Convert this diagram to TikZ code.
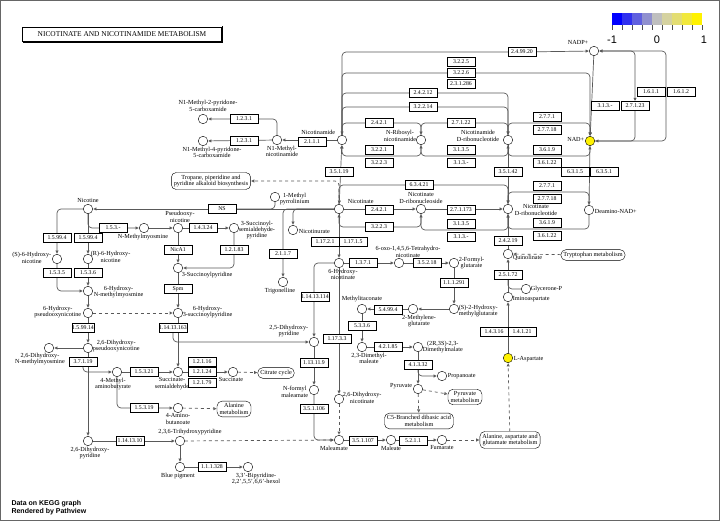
\documentclass[tikz,border=0pt]{standalone}
\usepackage{fontspec}
\setmainfont{Liberation Serif}
\newfontfamily\legendfont{Liberation Sans}
\usetikzlibrary{arrows.meta,backgrounds}
\newcommand\ecfont{\fontsize{5.8}{5.8}\selectfont}
\newcommand\lblfont{\fontsize{6.2}{6.4}\selectfont}
\tikzset{
  cpd/.style={circle,draw,fill=white,minimum size=9.5pt,inner sep=0pt},
  hit/.style={cpd,fill=yellow},
  ec/.style={draw,fill=white,font=\ecfont,inner sep=0.8pt,minimum width=28pt,minimum height=9pt},
  lbl/.style={font=\lblfont,align=center,inner sep=0.6pt},
  mapbox/.style={draw,rounded corners=5pt,fill=white,font=\lblfont,align=center,inner sep=2.5pt},
  ln/.style={draw=black!65,line width=0.7pt,rounded corners=4pt},
  rx/.style={ln,-{Latex[length=3.5pt,width=3.5pt]}},
  rxx/.style={ln,{Latex[length=3.5pt,width=3.5pt]}-{Latex[length=3.5pt,width=3.5pt]}},
  lnk/.style={ln,dashed,-{Latex[open,length=3.5pt,width=3.5pt]}}
}
\begin{document}
\begin{tikzpicture}[x=1pt,y=-1pt]
\useasboundingbox (0,0) rectangle (720,521);
\draw[black!60] (0.5,0.5) rectangle (719.5,520.5);

% title and legend
\node[draw,fill=white,font=\fontsize{7.4}{8}\selectfont,minimum width=199pt,minimum height=14pt,inner sep=1pt] (title) at (122,34) {NICOTINATE AND NICOTINAMIDE METABOLISM};
\draw[line width=1pt] (title.south west) ++(1,1) -| ([xshift=1pt,yshift=1pt]title.north east);
\foreach \i/\c in {0/blue,1/blue!75!lightgray,2/blue!50!lightgray,3/blue!25!lightgray,4/lightgray,5/yellow!25!lightgray,6/yellow!50!lightgray,7/yellow!75!lightgray,8/yellow}
  \fill[\c] (612+10*\i,13) rectangle (622+10*\i,25);
\foreach \i in {0,...,9}
  \draw[black!70] (612+10*\i,25) -- (612+10*\i,30);
\node[font=\legendfont\fontsize{11}{11}\selectfont] (lgm) at (612,40) {-1};
\node[font=\legendfont\fontsize{11}{11}\selectfont] (lg0) at (657,40) {0};
\node[font=\legendfont\fontsize{11}{11}\selectfont] (lgp) at (704,40) {1};
\node[font=\legendfont\fontsize{7}{8}\selectfont\bfseries,align=left,anchor=south west] (credit) at (8,518) {Data on KEGG graph\\Rendered by Pathview};

% compounds
\node[cpd] (nadp) at (594,51) {};
\node[lbl,anchor=east] (nadpl) at (589,42) {NADP+};
\node[hit] (nad) at (590,141) {};
\node[lbl,anchor=east] (nadl) at (585,139) {NAD+};
\node[cpd] (nam) at (342,140) {};
\node[lbl,anchor=south east] (naml) at (336,135) {Nicotinamide};
\node[cpd] (nrn) at (421,140) {};
\node[lbl,anchor=east] (nrnl) at (417,136) {N-Ribosyl-\\nicotinamide};
\node[cpd] (nmn) at (508,140) {};
\node[lbl,anchor=east] (nmnl) at (500,136) {Nicotinamide\\D-ribonucleotide};
\node[cpd] (na) at (339,209) {};
\node[lbl,anchor=south west] (nal) at (347,204) {Nicotinate};
\node[cpd] (nar) at (421,209) {};
\node[lbl,anchor=south] (narl) at (421,204) {Nicotinate\\D-ribonucleoside};
\node[cpd] (namn) at (508,209) {};
\node[lbl,anchor=west] (namnl) at (514,210) {Nicotinate\\D-ribonucleotide};
\node[cpd] (dnad) at (589,210) {};
\node[lbl,anchor=west] (dnadl) at (594,211) {Deamino-NAD+};
\node[cpd] (mnam) at (277,140) {};
\node[lbl,anchor=north] (mnaml) at (282,145) {N1-Methyl-\\nicotinamide};
\node[cpd] (mtwo) at (203,119) {};
\node[lbl,anchor=south] (mtwol) at (208,112) {N1-Methyl-2-pyridone-\\5-carboxamide};
\node[cpd] (mfour) at (203,141) {};
\node[lbl,anchor=north] (mfourl) at (212,146) {N1-Methyl-4-pyridone-\\5-carboxamide};
\node[cpd] (mpyr) at (275,197) {};
\node[lbl,anchor=west] (mpyrl) at (279,199) {1-Methyl\\pyrrolinium};
\node[cpd] (nic) at (88,209) {};
\node[lbl,anchor=south] (nicl) at (88,203) {Nicotine};
\node[cpd] (pon) at (178,228) {};
\node[lbl,anchor=south] (ponl) at (180,223) {Pseudooxy-\\nicotine};
\node[cpd] (nmm) at (144,228) {};
\node[lbl,anchor=north] (nmml) at (143,233) {N-Methylmyosmine};
\node[cpd] (ssp) at (234,228) {};
\node[lbl,anchor=west] (sspl) at (238,230) {3-Succinoyl-\\semialdehyde-\\pyridine};
\node[cpd] (shn) at (57,259) {};
\node[lbl,anchor=east] (shnl) at (52,258) {(S)-6-Hydroxy-\\nicotine};
\node[cpd] (rhn) at (88,259) {};
\node[lbl,anchor=west] (rhnl) at (90,257) {(R)-6-Hydroxy-\\nicotine};
\node[cpd] (sp) at (178,268) {};
\node[lbl,anchor=west] (spl) at (181,275) {3-Succinoylpyridine};
\node[cpd] (hnmm) at (88,291) {};
\node[lbl,anchor=west] (hnmml) at (93,292) {6-Hydroxy-\\N-methylmyosmine};
\node[cpd] (nur) at (293,230) {};
\node[lbl,anchor=west] (nurl) at (298,231) {Nicotinurate};
\node[cpd] (trig) at (283,282) {};
\node[lbl,anchor=north] (trigl) at (280,287) {Trigonelline};
\node[cpd] (hpon) at (88,313) {};
\node[lbl,anchor=east] (hponl) at (82,312) {6-Hydroxy-\\pseudooxynicotine};
\node[cpd] (hsp) at (178,313) {};
\node[lbl,anchor=west] (hspl) at (182,312) {6-Hydroxy-\\3-succinoylpyridine};
\node[cpd] (dhpon) at (88,348) {};
\node[lbl,anchor=west] (dhponl) at (92,346) {2,6-Dihydroxy-\\pseudooxynicotine};
\node[cpd] (dhnmm) at (49,348) {};
\node[lbl,anchor=north] (dhnmml) at (40,352) {2,6-Dihydroxy-\\N-methylmyosmine};
\node[cpd] (mab) at (117,372) {};
\node[lbl,anchor=north] (mabl) at (113,377) {4-Methyl-\\aminobutyrate};
\node[cpd] (ssa) at (178,372) {};
\node[lbl,anchor=north] (ssal) at (172,377) {Succinate-\\semialdehyde};
\node[cpd] (succ) at (233,372) {};
\node[lbl,anchor=north] (succl) at (231,377) {Succinate};
\node[cpd] (gaba) at (178,408) {};
\node[lbl,anchor=north] (gabal) at (178,413) {4-Amino-\\butanoate};
\node[cpd] (dhp) at (88,441) {};
\node[lbl,anchor=north] (dhpl) at (90,446) {2,6-Dihydroxy-\\pyridine};
\node[cpd] (thp) at (180,441) {};
\node[lbl,anchor=south] (thpl) at (190,436) {2,3,6-Trihydroxypyridine};
\node[cpd] (blue) at (180,467) {};
\node[lbl,anchor=north] (bluel) at (178,472) {Blue pigment};
\node[cpd] (bip) at (248,467) {};
\node[lbl,anchor=north] (bipl) at (256,472) {3,3'-Bipyridine-\\2,2',5,5',6,6'-hexol};
\node[cpd] (dhpf) at (314,342) {};
\node[lbl,anchor=south east] (dhpfl) at (309,338) {2,5-Dihydroxy-\\pyridine};
\node[cpd] (nfm) at (314,390) {};
\node[lbl,anchor=east] (nfml) at (309,392) {N-formyl\\maleamate};
\node[cpd] (hna) at (339,263) {};
\node[lbl,anchor=north] (hnal) at (343,268) {6-Hydroxy-\\nicotinate};
\node[cpd] (oxo) at (399,263) {};
\node[lbl,anchor=south] (oxol) at (408,258) {6-oxo-1,4,5,6-Tetrahydro-\\nicotinate};
\node[cpd] (fgl) at (454,263) {};
\node[lbl,anchor=west] (fgll) at (458,263) {2-Formyl-\\glutarate};
\node[cpd] (shmg) at (454,309) {};
\node[lbl,anchor=west] (shmgl) at (458,311) {(S)-2-Hydroxy-\\methylglutarate};
\node[cpd] (mgl) at (413,309) {};
\node[lbl,anchor=north] (mgll) at (419,314) {2-Methylene-\\glutarate};
\node[cpd] (mit) at (362,309) {};
\node[lbl,anchor=south] (mitl) at (362,303) {Methylitaconate};
\node[cpd] (dmm) at (362,347) {};
\node[lbl,anchor=north] (dmml) at (369,352) {2,3-Dimethyl-\\maleate};
\node[cpd] (dmma) at (418,347) {};
\node[lbl,anchor=west] (dmmal) at (422,347) {(2R,3S)-2,3-\\Dimethylmalate};
\node[cpd] (prop) at (442,376) {};
\node[lbl,anchor=west] (propl) at (447,376) {Propanoate};
\node[cpd] (pyr) at (418,389) {};
\node[lbl,anchor=east] (pyrl) at (413,386) {Pyruvate};
\node[cpd] (dhna) at (339,399) {};
\node[lbl,anchor=west] (dhnal) at (342,398) {2,6-Dihydroxy-\\nicotinate};
\node[cpd] (mam) at (339,440) {};
\node[lbl,anchor=north] (maml) at (334,445) {Maleamate};
\node[cpd] (mal) at (391,440) {};
\node[lbl,anchor=north] (mall) at (391,445) {Maleate};
\node[cpd] (fum) at (442,440) {};
\node[lbl,anchor=north] (fuml) at (442,445) {Fumarate};
\node[cpd] (quin) at (508,254) {};
\node[lbl,anchor=west] (quinl) at (512,258) {Quinolinate};
\node[cpd] (imasp) at (508,297) {};
\node[lbl,anchor=west] (imaspl) at (512,299) {Iminoaspartate};
\node[cpd] (gp) at (526,289) {};
\node[lbl,anchor=west] (gpl) at (530,289) {Glycerone-P};
\node[hit] (asp) at (508,358) {};
\node[lbl,anchor=west] (aspl) at (513,359) {L-Aspartate};

% maps
\node[mapbox] (trop) at (211,181) {Tropane, piperidine and\\pyridine alkaloid biosynthesis};
\node[mapbox] (citr) at (276,373) {Citrate cycle};
\node[mapbox] (alam) at (234,409) {Alanine\\metabolism};
\node[mapbox] (pyrm) at (465,397) {Pyruvate\\metabolism};
\node[mapbox] (cfive) at (419,421) {C5-Branched dibasic acid\\metabolism};
\node[mapbox] (aagm) at (510,440) {Alanine, aspartate and\\glutamate metabolism};
\node[mapbox] (trpm) at (593,255) {Tryptophan metabolism};

% enzymes
\node[ec] (e249) at (522,52) {2.4.99.20};
\node[ec] (e3225) at (461,62) {3.2.2.5};
\node[ec] (e3226) at (461,73) {3.2.2.6};
\node[ec] (e23186) at (461,84) {2.3.1.286};
\node[ec] (e24212) at (423,93) {2.4.2.12};
\node[ec] (e32214) at (423,107) {3.2.2.14};
\node[ec] (e2421) at (379,123) {2.4.2.1};
\node[ec] (e3221) at (379,149.5) {3.2.2.1};
\node[ec] (e3223) at (379,162.5) {3.2.2.3};
\node[ec] (e27122) at (461,123) {2.7.1.22};
\node[ec] (e3135) at (461,149.5) {3.1.3.5};
\node[ec] (e313) at (461,162.5) {3.1.3.-};
\node[ec] (e2771) at (547,116.5) {2.7.7.1};
\node[ec] (e27718) at (547,129.5) {2.7.7.18};
\node[ec] (e3619) at (547,149.5) {3.6.1.9};
\node[ec] (e36122) at (547,162.5) {3.6.1.22};
\node[ec] (e313n) at (605,106) {3.1.3.-};
\node[ec] (e27123) at (635,106) {2.7.1.23};
\node[ec] (e1611) at (651,92) {1.6.1.1};
\node[ec] (e1612) at (681,92) {1.6.1.2};
\node[ec] (e6315) at (575,172) {6.3.1.5};
\node[ec] (e6351) at (604,172) {6.3.5.1};
\node[ec] (e35119) at (339,172) {3.5.1.19};
\node[ec] (e35142) at (508,172) {3.5.1.42};
\node[ec] (e63421) at (419,185) {6.3.4.21};
\node[ec] (e2421b) at (379,210) {2.4.2.1};
\node[ec] (e3223b) at (379,227) {3.2.2.3};
\node[ec] (e271173) at (461,210) {2.7.1.173};
\node[ec] (e3135b) at (461,223.5) {3.1.3.5};
\node[ec] (e313b) at (461,236.5) {3.1.3.-};
\node[ec] (e2771b) at (547,185.5) {2.7.7.1};
\node[ec] (e27718b) at (547,198.5) {2.7.7.18};
\node[ec] (e3619b) at (547,222.5) {3.6.1.9};
\node[ec] (e36122b) at (547,235.5) {3.6.1.22};
\node[ec] (e24219) at (508,241) {2.4.2.19};
\node[ec] (e2111) at (312,142) {2.1.1.1};
\node[ec] (e1231a) at (244,119) {1.2.3.1};
\node[ec] (e1231b) at (244,141) {1.2.3.1};
\node[ec] (ens) at (222,209) {NS};
\node[ec] (e153) at (113,228) {1.5.3.-};
\node[ec] (e14324) at (203,228) {1.4.3.24};
\node[ec] (e15994a) at (57,238) {1.5.99.4};
\node[ec] (e15994b) at (88,238) {1.5.99.4};
\node[ec] (enica) at (178,250) {NicA1};
\node[ec] (e12183) at (234,250) {1.2.1.83};
\node[ec] (e1535) at (57,273) {1.5.3.5};
\node[ec] (e1536) at (88,273) {1.5.3.6};
\node[ec] (espm) at (178,289) {Spm};
\node[ec] (e2117) at (283,254) {2.1.1.7};
\node[ec] (e11721) at (325,242) {1.17.2.1};
\node[ec] (e11715) at (353,242) {1.17.1.5};
\node[ec,minimum width=22pt,inner sep=0.3pt] (e114114) at (315,297) {1.14.13.114};
\node[ec,minimum width=22pt,inner sep=0.3pt] (e159914) at (83,328) {1.5.99.14};
\node[ec,minimum width=22pt,inner sep=0.3pt] (e114163) at (173,328) {1.14.13.163};
\node[ec] (e37119) at (83,362) {3.7.1.19};
\node[ec] (e15321) at (144,372) {1.5.3.21};
\node[ec] (e12116) at (202,361.5) {1.2.1.16};
\node[ec] (e12124) at (202,372) {1.2.1.24};
\node[ec] (e12179) at (202,382.5) {1.2.1.79};
\node[ec] (e15319) at (144,408) {1.5.3.19};
\node[ec] (e114110) at (130,441) {1.14.13.10};
\node[ec] (e111328) at (212,467) {1.1.1.328};
\node[ec] (e113119) at (314,363) {1.13.11.9};
\node[ec] (e351106) at (314,409) {3.5.1.106};
\node[ec] (e11733) at (337,339) {1.17.3.3};
\node[ec] (e1371) at (363,263) {1.3.7.1};
\node[ec] (e35218) at (427,263) {3.5.2.18};
\node[ec] (e111291) at (454,283) {1.1.1.291};
\node[ec] (e54994) at (388,310) {5.4.99.4};
\node[ec] (e5336) at (362,326) {5.3.3.6};
\node[ec] (e42185) at (388,347) {4.2.1.85};
\node[ec] (e41332) at (418,365) {4.1.3.32};
\node[ec] (e351107) at (363,441) {3.5.1.107};
\node[ec] (e5211) at (413,441) {5.2.1.1};
\node[ec] (e25172) at (508,275) {2.5.1.72};
\node[ec] (e14316) at (494,332) {1.4.3.16};
\node[ec] (e14121) at (522,332) {1.4.1.21};

% junctions between stacked boxes
\coordinate (jnrn) at (379,156);
\coordinate (jnmn) at (461,156);
\coordinate (jnad) at (547,156);
\coordinate (jnadu) at (547,123);
\coordinate (jdnu) at (547,192);
\coordinate (jdnl) at (547,229);
\coordinate (jnar) at (461,230);
\coordinate (jnadp) at (666,92);

\begin{scope}[on background layer]
\draw[rx] (nam) |- (e249) -- (nadp);
\draw[rx] (nam) |- (e3226) -| (nad);
\draw[rx] (nam) |- (e24212) -| (nmn);
\draw[rx] (nmn) |- (e32214) -| (nam);
\draw[rx] (nam) |- (e2421) -| (nrn);
\draw[rx] (nrn) |- (jnrn) -| (nam);
\draw[rx] (nrn) |- (e27122) -| (nmn);
\draw[rx] (nmn) |- (jnmn) -| (nrn);
\draw[rx] (nmn) |- (jnadu) -| (nad);
\draw[rx] (nad) |- (jnad) -| (nmn);
\draw[rx] (nadp) -- (nad);
\draw[rxx] (nad) -| (e27123) |- (nadp);
\draw[rxx] (nad) -| (jnadp) |- (nadp);
\draw[rx] (dnad) -- (nad);
\draw[rxx] (nam) -- (na);
\draw[rx] (nmn) -- (namn);
\draw[rx] (na) |- (e63421) -| (namn);
\draw[rx] (na) -- (nar);
\draw[rx] (nar) |- (e3223b) -| (na);
\draw[rx] (nar) -- (namn);
\draw[rx] (namn) |- (jnar) -| (nar);
\draw[rx] (namn) |- (jdnu) -| (dnad);
\draw[rx] (dnad) |- (jdnl) -| (namn);
\draw[rx] (quin) -- (namn);
\draw[rx] (imasp) -- (quin);
\draw[ln] (gp) -| (e25172);
\draw[rx] (asp) -- (imasp);
\draw[lnk] (aagm) -- (asp);
\draw[lnk] (trpm) -- (quin);
\draw[rx] (nam) -- (mnam);
\draw[rx] (mnam) |- (mtwo);
\draw[rx] (mnam) -- (mfour);
\draw[lnk] (na) |- (trop);
\draw[rx] (na) -- (nic);
\draw[ln] (mpyr) |- (ens);
\draw[rx] (na) -| (nur);
\draw[rx] (na) -| (e2117) -- (trig);
\draw[rx] (na) -- (hna);
\draw[rx] (hna) -- (oxo);
\draw[rx] (oxo) -- (fgl);
\draw[rx] (fgl) -- (shmg);
\draw[rx] (shmg) -- (mgl);
\draw[rx] (mgl) -- (mit);
\draw[rx] (mit) -- (dmm);
\draw[rx] (dmm) -- (dmma);
\draw[rx] (dmma) -- (pyr);
\draw[rx] (e41332) |- (prop);
\draw[lnk] (pyr) -- (pyrm);
\draw[lnk] (pyr) -- (cfive);
\draw[rx] (hna) -| (dhpf);
\draw[rx] (hna) -- (dhna);
\draw[lnk] (dhna) -- (mam);
\draw[rx] (dhpf) -- (nfm);
\draw[rx] (nfm) |- (mam);
\draw[rx] (mam) -- (mal);
\draw[rx] (mal) -- (fum);
\draw[lnk] (fum) -- (aagm);
\draw[lnk] (thp) -- (mam);
\draw[rx] (nic) |- (e153) -- (nmm);
\draw[rx] (nmm) -- (pon);
\draw[rx] (pon) -- (ssp);
\draw[rx] (ssp) |- (sp);
\draw[rx] (pon) -- (sp);
\draw[rx] (sp) -- (hsp);
\draw[rx] (nic) -| (shn);
\draw[rx] (nic) -- (rhn);
\draw[rx] (shn) |- (hnmm);
\draw[rx] (rhn) -- (hnmm);
\draw[rx] (hnmm) -- (hpon);
\draw[lnk] (hpon) -- (hsp);
\draw[rx] (hsp) -- (ssa);
\draw[rx] (e114163) |- (dhpf);
\draw[rx] (hpon) -- (dhpon);
\draw[rx] (dhpon) -- (dhnmm);
\draw[rx] (dhpon) -- (dhp);
\draw[rx] (e37119) |- (mab);
\draw[rx] (mab) -- (ssa);
\draw[rx] (ssa) -- (succ);
\draw[lnk] (succ) -- (citr);
\draw[rx] (mab) |- (gaba);
\draw[lnk] (gaba) -- (alam);
\draw[rx] (dhp) -- (thp);
\draw[rx] (thp) -- (blue);
\draw[rx] (blue) -- (bip);
\end{scope}
\end{tikzpicture}
\end{document}
